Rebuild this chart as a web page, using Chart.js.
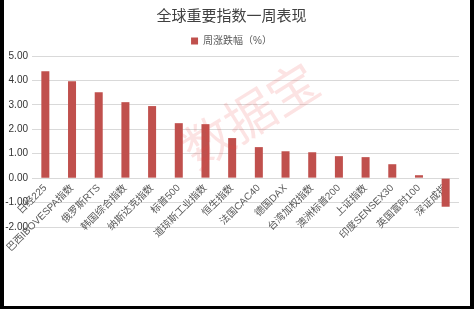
<!DOCTYPE html>
<html lang="zh">
<head>
    <meta charset="UTF-8">
    <title>全球重要指数一周表现</title>
    <script src="https://cdn.jsdelivr.net/npm/chart.js@4.4.0/dist/chart.umd.min.js"></script>
    <style>
        html, body { margin: 0; padding: 0; background: #000; }
        .wrap { position: absolute; left: 4px; top: 0; width: 466px; height: 306px; background: #fff; }
    </style>
</head>
<body>
<div class="wrap">
    <canvas id="myChart"></canvas>
</div>

<script>
    // data
    const labels = ['日经225', '巴西IBOVESPA指数', '俄罗斯RTS', '韩国综合指数', '纳斯达克指数', '标普500',
        '道琼斯工业指数', '恒生指数', '法国CAC40', '德国DAX', '台湾加权指数', '澳洲标普200',
        '上证指数', '印度SENSEX30', '英国富时100', '深证成指'];
    const weekChange = [4.38, 3.97, 3.52, 3.11, 2.95, 2.25, 2.21, 1.64, 1.27, 1.10, 1.06, 0.90, 0.86, 0.57, 0.12, -1.17];
    const seriesName = '周涨跌幅（%）';
    const chartTitle = '全球重要指数一周表现';

    const FONT = "'Liberation Sans', 'Noto Sans CJK SC', sans-serif";

    // light pink watermark
    const watermark = {
        id: 'watermark',
        afterDatasetsDraw(chart) {
            const ctx = chart.ctx;
            ctx.save();
            ctx.translate(246, 115);
            ctx.rotate(-32 * Math.PI / 180);
            ctx.font = "50px 'Noto Sans CJK SC', sans-serif";
            ctx.fillStyle = 'rgba(235, 70, 70, 0.15)';
            ctx.textAlign = 'center';
            ctx.textBaseline = 'middle';
            ctx.fillText('数据宝', 0, 0);
            ctx.restore();
        }
    };

    var ctx = document.getElementById('myChart').getContext('2d');
    var myChart = new Chart(ctx, {
        type: 'bar',
        data: {
            labels: labels,
            datasets: [{
                label: seriesName,
                data: weekChange,
                backgroundColor: '#c0504d',
                barPercentage: 0.3,
                categoryPercentage: 1
            }]
        },
        options: {
            responsive: true,
            maintainAspectRatio: false,
            animation: false,
            layout: { padding: { left: 0, right: 11, top: 0, bottom: 79 } },
            plugins: {
                title: {
                    display: true,
                    text: chartTitle,
                    color: '#404040',
                    font: { family: FONT, size: 15, weight: 'normal' },
                    padding: { top: 8, bottom: 2 }
                },
                legend: {
                    labels: {
                        color: '#595959',
                        font: { family: FONT, size: 10 },
                        boxWidth: 7,
                        boxHeight: 7,
                        padding: 8
                    }
                },
                tooltip: { enabled: false }
            },
            scales: {
                x: {
                    position: { y: 0 },
                    grid: { display: false, drawTicks: false },
                    border: { display: false },
                    ticks: {
                        color: '#595959',
                        font: { family: FONT, size: 10 },
                        minRotation: 45,
                        maxRotation: 45,
                        autoSkip: false,
                        padding: 4
                    }
                },
                y: {
                    min: -2,
                    max: 5,
                    afterFit: s => { s.width = 28; },
                    grid: { color: '#d9d9d9', drawTicks: false },
                    border: { display: false },
                    ticks: {
                        stepSize: 1,
                        color: '#333',
                        font: { family: FONT, size: 10 },
                        padding: 4,
                        callback: v => v.toFixed(2)
                    }
                }
            }
        },
        plugins: [watermark]
    });
</script>
</body>
</html>
